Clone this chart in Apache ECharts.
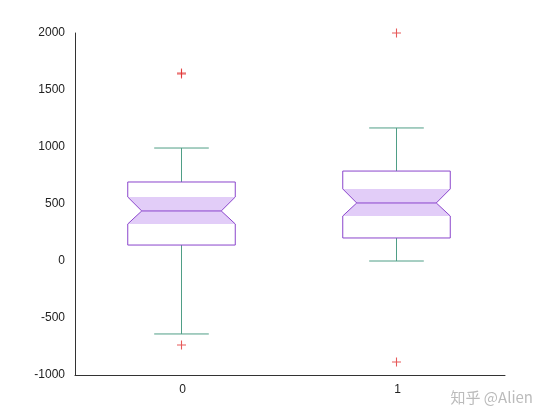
<!DOCTYPE html>
<html>
<head>
<meta charset="utf-8">
<script src="https://cdn.jsdelivr.net/npm/echarts@6/dist/echarts.min.js"></script>
<style>html,body{margin:0;padding:0;background:#fff}#chart{width:547px;height:415px}</style>
</head>
<body>
<div id="chart"></div>
<script>
const categories = ["0", "1"];
// [whiskerLow, q1, notchLow, median, notchHigh, q3, whiskerHigh]
const boxStats = [
    [-640, 140, 325, 439, 561, 693, 991],
    [0, 202, 395, 509, 632, 789, 1167]
];
const outliers = [
    [0, 1649], [0, 1640], [0, -737],
    [1, 2000], [1, -886]
];

const myChart = echarts.init(document.getElementById("chart"));

const renderBox = function(params, api) {
    const x = api.value(0);
    const v = boxStats[x];
    const p = (val) => api.coord([x, val]);
    const cx = p(0)[0] - 1;
    const band = api.size([1, 0])[0];
    const half = band * 0.25;
    const notchIn = half * 0.74;
    const capHalf = band * 0.127;
    const y = v.map(val => p(val)[1]);
    const outline = [
        [cx - half, y[5]], [cx + half, y[5]], [cx + half, y[4]], [cx + notchIn, y[3]],
        [cx + half, y[2]], [cx + half, y[1]], [cx - half, y[1]], [cx - half, y[2]],
        [cx - notchIn, y[3]], [cx - half, y[4]]
    ];
    const shade = [
        [cx - half, y[4]], [cx + half, y[4]], [cx + notchIn, y[3]], [cx + half, y[2]],
        [cx - half, y[2]], [cx - notchIn, y[3]]
    ];
    const wStyle = {stroke: "#4f9e86", lineWidth: 1};
    return {
        type: "group",
        children: [
            {type: "line", shape: {x1: cx, y1: y[0], x2: cx, y2: y[1]}, style: wStyle},
            {type: "line", shape: {x1: cx, y1: y[5], x2: cx, y2: y[6]}, style: wStyle},
            {type: "line", shape: {x1: cx - capHalf, y1: y[0], x2: cx + capHalf, y2: y[0]}, style: wStyle},
            {type: "line", shape: {x1: cx - capHalf, y1: y[6], x2: cx + capHalf, y2: y[6]}, style: wStyle},
            {type: "polygon", shape: {points: shade}, style: {fill: "#e2cdf8", stroke: null}},
            {type: "polygon", shape: {points: outline}, style: {fill: "none", stroke: "#8a45cc", lineWidth: 1}},
            {type: "line", shape: {x1: cx - notchIn, y1: y[3], x2: cx + notchIn, y2: y[3]}, style: {stroke: "#8a45cc", lineWidth: 1}}
        ]
    };
};

const option = {
    animation: false,
    textStyle: {fontFamily: "Liberation Sans"},
    grid: {left: 75, right: 42, top: 33, bottom: 40},
    xAxis: {
        type: "category",
        data: categories,
        axisLine: {onZero: false, lineStyle: {color: "#333"}},
        axisTick: {inside: true, alignWithLabel: true, length: 5, lineStyle: {color: "#333"}},
        axisLabel: {color: "#222", fontSize: 12, margin: 9}
    },
    yAxis: {
        type: "value",
        min: -1000,
        max: 2000,
        interval: 500,
        splitLine: {show: false},
        axisLine: {show: true, lineStyle: {color: "#333"}},
        axisTick: {show: false},
        axisLabel: {color: "#222", fontSize: 12, margin: 10, formatter: (v) => String(v)}
    },
    series: [
        {
            type: "custom",
            renderItem: renderBox,
            data: categories.map((c, i) => [i]),
            encode: {x: 0}
        },
        {
            type: "scatter",
            data: outliers,
            symbol: "path://M-1,-0.12H1V0.12H-1Z M-0.12,-1H0.12V1H-0.12Z",
            symbolSize: 9,
            symbolOffset: [-1, 0],
            itemStyle: {color: "#e03030"}
        }
    ],
    graphic: [{
        type: "text",
        right: 14,
        bottom: 10,
        style: {text: "知乎 @Alien", fill: "#bbb", font: "15px 'Noto Sans CJK SC'"}
    }]
};

myChart.setOption(option);
</script>
</body>
</html>
